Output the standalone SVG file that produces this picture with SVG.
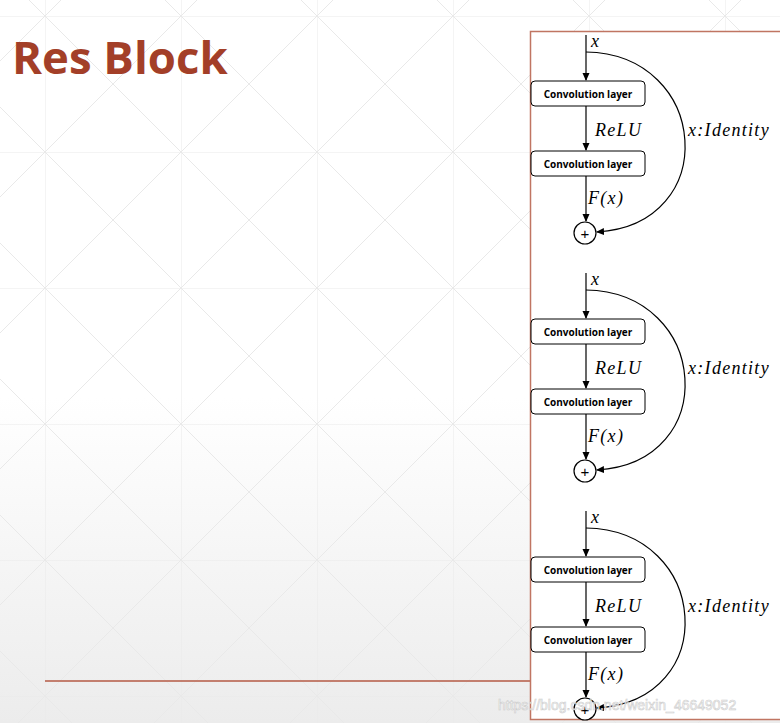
<svg xmlns="http://www.w3.org/2000/svg" width="780" height="723" viewBox="0 0 780 723">
<defs>
<linearGradient id="bg" x1="0" y1="0" x2="0" y2="1"><stop offset="0.55" stop-color="#ffffff"/><stop offset="1" stop-color="#ececec"/></linearGradient>
<pattern id="grid" width="136" height="136" patternUnits="userSpaceOnUse" x="45" y="16">
<path d="M0,0H136M0,0V136M0,0L136,136M136,0L0,136" stroke="#e9e9e9" stroke-width="1" fill="none"/>
</pattern>
<marker id="ah" markerWidth="8" markerHeight="8" refX="7" refY="4" orient="auto" markerUnits="userSpaceOnUse"><path d="M0,0.5L8,4L0,7.5z" fill="#000"/></marker>
<g id="block">
<path class="ln" d="M586,35V80"/>
<rect class="box" x="531" y="81" width="114" height="25" rx="4"/>
<text class="bt" x="588" y="97.5">Convolution layer</text>
<path class="ln" d="M586,106V150"/>
<rect class="box" x="531" y="151" width="114" height="25" rx="4"/>
<text class="bt" x="588" y="167.5">Convolution layer</text>
<path class="ln" d="M586,176V221"/>
<circle cx="585" cy="233" r="11" fill="#fff" stroke="#000" stroke-width="1.2"/>
<text x="585" y="238.5" font-family="Liberation Sans, sans-serif" font-size="15" text-anchor="middle">+</text>
<path class="ln" d="M586,52C710,54 722,225 597,232"/>
<text class="m" x="591" y="47">x</text>
<text class="m" x="595" y="136">ReLU</text>
<text class="m" x="688" y="136">x:Identity</text>
<text class="m" x="588" y="204">F(x)</text>
</g>
</defs>
<style>
.ln{stroke:#000;stroke-width:1.2;fill:none;marker-end:url(#ah)}
.box{fill:#fff;stroke:#000;stroke-width:1}
.bt{font-family:"Open Sans",sans-serif;font-weight:bold;font-size:10px;text-anchor:middle}
.m{font-family:"Liberation Serif",serif;font-style:italic;font-size:18px;letter-spacing:1.3px}
</style>
<rect width="780" height="723" fill="url(#bg)"/>
<rect width="780" height="723" fill="url(#grid)"/>
<text x="12" y="74" font-family="Open Sans, sans-serif" font-weight="bold" font-size="45.5" fill="#a33f28">Res Block</text>
<line x1="45" y1="681" x2="531" y2="681" stroke="#b55a45" stroke-width="1.5"/>
<rect x="530.5" y="31.5" width="252" height="688" fill="#fff" stroke="#c07562" stroke-width="1.5"/>
<g id="block1"><use href="#block"/></g>
<g id="block2"><use href="#block" y="238"/></g>
<g id="block3"><use href="#block" y="476"/></g>
<text x="498" y="710" font-family="Liberation Sans, sans-serif" font-size="14" fill="#ffffff" stroke="#c8c8c8" stroke-width="0.6" opacity="0.9">https://blog.csdn.net/weixin_46649052</text>
</svg>
